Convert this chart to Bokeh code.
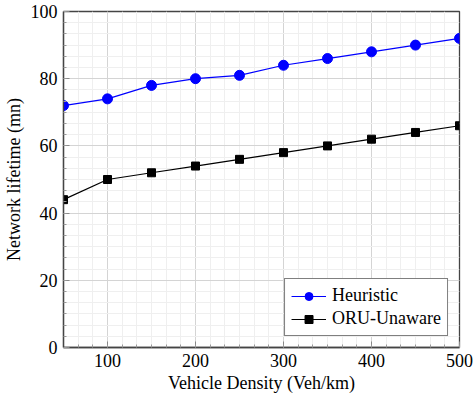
from bokeh.plotting import figure
from bokeh.models import SingleIntervalTicker, Range1d, Legend, LegendItem
from bokeh.embed import file_html
from bokeh.resources import INLINE

density = [50, 100, 150, 200, 250, 300, 350, 400, 450, 500]
heuristic = [72, 74, 78, 80, 81, 84, 86, 88, 90, 92]
oru_unaware = [44, 50, 52, 54, 56, 58, 60, 62, 64, 66]

FONT = "Liberation Serif"

p = figure(width=474, height=395, output_backend="svg", toolbar_location=None,
           x_range=Range1d(50, 500), y_range=Range1d(0, 100),
           min_border_left=62, min_border_right=15, min_border_top=11, min_border_bottom=47,
           x_axis_label="Vehicle Density (Veh/km)", y_axis_label="Network lifetime (mn)")
p.outline_line_color = "#444444"
p.outline_line_width = 1.3
p.background_fill_color = "white"
p.border_fill_color = "white"

xt = SingleIntervalTicker(interval=100, num_minor_ticks=6)
yt = SingleIntervalTicker(interval=20, num_minor_ticks=6)
p.xaxis.ticker = xt
p.yaxis.ticker = yt
p.xgrid.ticker = xt
p.ygrid.ticker = yt

for g in (p.xgrid, p.ygrid):
    g.grid_line_color = "#d4d4d4"
    g.grid_line_width = 1
    g.minor_grid_line_color = "#efefef"
    g.minor_grid_line_width = 1

def style_axis(ax):
    ax.axis_line_color = "#444444"
    ax.axis_line_width = 1.3
    ax.major_tick_in = 6
    ax.major_tick_out = 0
    ax.minor_tick_in = 3
    ax.minor_tick_out = 0
    ax.major_tick_line_color = "#888888"
    ax.minor_tick_line_color = "#999999"
    ax.major_label_text_font = FONT
    ax.major_label_text_font_size = "18px"
    ax.major_label_text_color = "black"
    ax.axis_label_text_font = FONT
    ax.axis_label_text_font_size = "18px"
    ax.axis_label_text_font_style = "normal"
    ax.axis_label_text_color = "black"

style_axis(p.xaxis[0])
style_axis(p.yaxis[0])
p.xaxis[0].major_label_standoff = 6
p.xaxis[0].axis_label_standoff = 3
p.yaxis[0].major_label_standoff = 6
p.yaxis[0].axis_label_standoff = 4

l1 = p.line(density, heuristic, line_color="#0000ff", line_width=1.2)
m1 = p.scatter(density, heuristic, marker="circle", size=10, fill_color="#0000ff", line_color="#0000ff")
l2 = p.line(density, oru_unaware, line_color="black", line_width=1.2)
m2 = p.scatter(density, oru_unaware, marker="square", size=8, fill_color="black", line_color="black")

legend = Legend(items=[LegendItem(label="Heuristic", renderers=[l1, m1]),
                       LegendItem(label="ORU-Unaware", renderers=[l2, m2])],
                location="bottom_right")
legend.label_text_font = FONT
legend.label_text_font_size = "18px"
legend.label_text_color = "black"
legend.border_line_color = "black"
legend.border_line_width = 1
legend.glyph_width = 35
legend.glyph_height = 20
legend.label_height = 20
legend.label_standoff = 6
legend.padding = 6
legend.spacing = 2
legend.margin = 11
legend.background_fill_alpha = 1
p.add_layout(legend, "center")

open("out.html", "w").write(file_html(p, INLINE))
